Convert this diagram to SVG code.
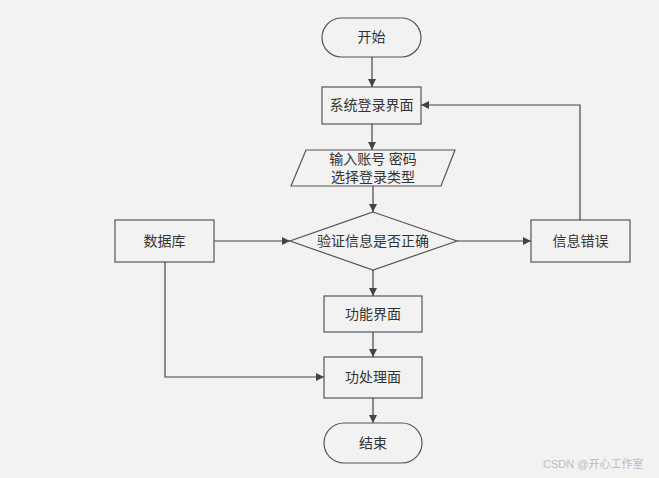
<svg xmlns="http://www.w3.org/2000/svg" width="659" height="478" viewBox="0 0 659 478">
<style>
.s{fill:#f2f2f2;stroke:#555;stroke-width:1.2}
.t{font-family:"Liberation Serif","Noto Sans CJK SC",serif;font-size:14px;fill:#333;text-anchor:middle}
.c{fill:none;stroke:#444;stroke-width:1.2;marker-end:url(#a)}
.w{font-family:"Liberation Sans","Noto Sans CJK SC",sans-serif;font-size:11px;fill:#bbb}
</style>
<defs><marker id="a" viewBox="0 0 10 10" refX="10" refY="5" markerWidth="8" markerHeight="8" orient="auto" markerUnits="userSpaceOnUse"><path d="M0,0L10,5L0,10z" fill="#444"/></marker></defs>
<rect width="659" height="478" fill="#f2f2f2"/>
<g id="start"><rect class="s" x="322" y="18" width="99" height="39" rx="19.5"/><text class="t" x="371.5" y="42">开始</text></g>
<g id="login"><rect class="s" x="322" y="87" width="99" height="37"/><text class="t" x="371.5" y="110">系统登录界面</text></g>
<g id="input"><polygon class="s" points="306,150 455,150 441,186 291,186"/><text class="t" x="373" y="164">输入账号 密码</text><text class="t" x="373" y="182">选择登录类型</text></g>
<g id="check"><polygon class="s" points="373,212 457,241 373,270 290,241"/><text class="t" x="373" y="246">验证信息是否正确</text></g>
<g id="db"><rect class="s" x="115" y="220" width="99" height="42"/><text class="t" x="164.5" y="246">数据库</text></g>
<g id="err"><rect class="s" x="531" y="220" width="99" height="42"/><text class="t" x="580.5" y="246">信息错误</text></g>
<g id="func"><rect class="s" x="324" y="296" width="98" height="36"/><text class="t" x="373" y="319">功能界面</text></g>
<g id="proc"><rect class="s" x="324" y="357" width="98" height="41"/><text class="t" x="373" y="382">功处理面</text></g>
<g id="end"><rect class="s" x="324" y="423" width="98" height="40" rx="20"/><text class="t" x="373" y="448">结束</text></g>
<g id="connectors">
<path class="c" d="M372,57V87"/>
<path class="c" d="M372,124V150"/>
<path class="c" d="M373,186V212"/>
<path class="c" d="M214,241H290"/>
<path class="c" d="M457,241H531"/>
<path class="c" d="M580,220V105H421"/>
<path class="c" d="M373,270V296"/>
<path class="c" d="M373,332V357"/>
<path class="c" d="M165,262V377H324"/>
<path class="c" d="M373,398V423"/>
</g>
<text class="w" x="543" y="468">CSDN @开心工作室</text>
</svg>
